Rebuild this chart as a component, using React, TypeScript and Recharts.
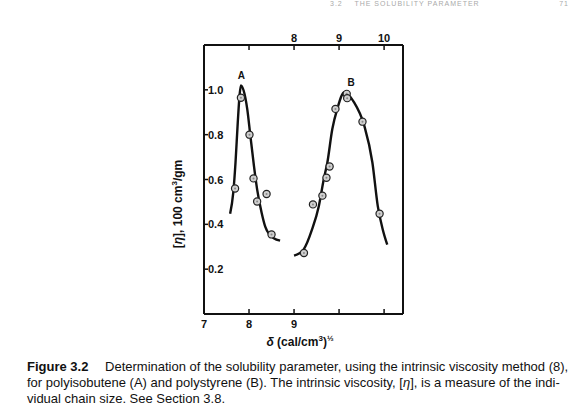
import React from 'react';
import { ComposedChart, Line, Scatter, XAxis, YAxis, ReferenceDot } from 'recharts';

// Curve A (polyisobutene) – plotted against bottom δ axis
const curveA = [
  { x: 7.58, y: 0.447 }, { x: 7.65, y: 0.541 }, { x: 7.7, y: 0.676 }, { x: 7.75, y: 0.855 },
  { x: 7.79, y: 0.975 }, { x: 7.82, y: 1.02 }, { x: 7.88, y: 0.997 }, { x: 7.96, y: 0.915 },
  { x: 8.03, y: 0.795 }, { x: 8.11, y: 0.66 }, { x: 8.18, y: 0.556 }, { x: 8.28, y: 0.452 },
  { x: 8.36, y: 0.39 }, { x: 8.45, y: 0.355 }, { x: 8.55, y: 0.338 }, { x: 8.69, y: 0.327 },
];
const pointsA = [
  { x: 7.69, y: 0.56 }, { x: 7.82, y: 0.965 }, { x: 8.01, y: 0.8 }, { x: 8.1, y: 0.605 },
  { x: 8.18, y: 0.502 }, { x: 8.39, y: 0.535 }, { x: 8.5, y: 0.355 },
];
// Curve B (polystyrene) – plotted against top δ axis
const curveB = [
  { x: 8.0, y: 0.26 }, { x: 8.21, y: 0.287 }, { x: 8.4, y: 0.377 }, { x: 8.55, y: 0.481 },
  { x: 8.66, y: 0.601 }, { x: 8.74, y: 0.676 }, { x: 8.85, y: 0.825 }, { x: 8.96, y: 0.915 },
  { x: 9.12, y: 0.99 }, { x: 9.33, y: 0.945 }, { x: 9.56, y: 0.84 }, { x: 9.74, y: 0.676 },
  { x: 9.86, y: 0.481 }, { x: 9.97, y: 0.377 }, { x: 10.07, y: 0.309 },
];
const pointsB = [
  { x: 8.22, y: 0.272 }, { x: 8.42, y: 0.489 }, { x: 8.63, y: 0.528 }, { x: 8.72, y: 0.608 },
  { x: 8.79, y: 0.658 }, { x: 8.92, y: 0.915 }, { x: 9.17, y: 0.982 }, { x: 9.18, y: 0.963 },
  { x: 9.52, y: 0.858 }, { x: 9.9, y: 0.447 },
];
const labelA = { x: 7.83, y: 1.067, text: 'A' };
const labelB = { x: 9.27, y: 1.036, text: 'B' };

const bottomTicks = [7, 8, 9, 10, 11];
const bottomLabeled = [7, 8, 9];
const topTicks = [7, 8, 9, 10];
const topLabeled = [8, 9, 10];
const yTicks = [0.2, 0.4, 0.6, 0.8, 1.0];
const bottomDomain = [7, 11.42];
const topDomain = [6, 10.42];
const yDomain = [0, 1.2];

const FONT = '"Liberation Sans", Arial, sans-serif';

const BottomTick = (props: any) => {
  const { x, y, payload } = props;
  const v = payload.value;
  return (
    <g>
      <line x1={x} y1={y} x2={x} y2={y - 5} stroke="#111" strokeWidth={1.5} />
      {bottomLabeled.includes(v) && (
        <text x={x} y={y + 14} textAnchor="middle" fontSize={11} fontWeight="bold" fill="#111" fontFamily={FONT}>
          {v}
        </text>
      )}
    </g>
  );
};

const TopTick = (props: any) => {
  const { x, y, payload } = props;
  const v = payload.value;
  return (
    <g>
      <line x1={x} y1={y} x2={x} y2={y + 5} stroke="#111" strokeWidth={1.5} />
      {topLabeled.includes(v) && (
        <text x={x} y={y - 3} textAnchor="middle" fontSize={11} fontWeight="bold" fill="#111" fontFamily={FONT}>
          {v}
        </text>
      )}
    </g>
  );
};

const LeftTick = (props: any) => {
  const { y, payload } = props;
  const v = payload.value as number;
  const x = 204;
  return (
    <g>
      <line x1={x} y1={y} x2={x + 4} y2={y} stroke="#111" strokeWidth={1.5} />
      <text x={x + 4} y={y + 4} textAnchor="start" fontSize={11} fontWeight="bold" fill="#111" fontFamily={FONT}>
        {v.toFixed(1)}
      </text>
    </g>
  );
};

const Marker = (props: any) => {
  const { cx, cy } = props;
  return (
    <g>
      <circle cx={cx} cy={cy} r={3.6} fill="#cfcfcf" stroke="#222" strokeWidth={1.2} />
      <circle cx={cx} cy={cy} r={1} fill="#888" />
    </g>
  );
};

const YLabel = () => (
  <text transform="translate(182,204) rotate(-90)" textAnchor="middle" fontSize={12} fontWeight="bold" fill="#111" fontFamily={FONT}>
    [<tspan fontStyle="italic">η</tspan>], 100 cm<tspan dy={-5} fontSize={8}>3</tspan>
    <tspan dy={5}>/gm</tspan>
  </text>
);

const XLabel = () => (
  <text x={300} y={346} textAnchor="middle" fontSize={12} fontWeight="bold" fill="#111" fontFamily={FONT}>
    <tspan fontStyle="italic">δ</tspan> (cal/cm<tspan dy={-5} fontSize={8}>3</tspan>
    <tspan dy={5}>)</tspan>
    <tspan dy={-5} fontSize={8}>½</tspan>
  </text>
);

const PeakLabel = (props: any) => {
  const { viewBox, value } = props;
  return (
    <text x={viewBox.x} y={viewBox.y + 4} textAnchor="middle" fontSize={10} fontWeight="bold" fill="#111" fontFamily={FONT}>
      {value}
    </text>
  );
};

export default function App() {
  return (
    <div style={{ position: 'absolute', left: 0, top: 0, width: 581, height: 412, background: '#fff', overflow: 'hidden' }}>
      <div
        style={{
          position: 'absolute', left: 330, top: 0, fontFamily: FONT, fontSize: 7, lineHeight: '8px', color: '#aaa',
          letterSpacing: 1, whiteSpace: 'pre',
        }}
      >
        {'3.2    THE SOLUBILITY PARAMETER                           71'}
      </div>
      <ComposedChart
        width={581}
        height={350}
        margin={{ top: 25, right: 177, bottom: 6, left: 203 }}
        style={{ position: 'absolute', left: 0, top: 0 }}
      >
        <XAxis
          xAxisId="b" orientation="bottom" type="number" dataKey="x" domain={bottomDomain} ticks={bottomTicks}
          allowDataOverflow height={30} tickSize={0} tickMargin={0} tick={<BottomTick />}
          axisLine={{ stroke: '#111', strokeWidth: 2 }} tickLine={false}
          label={{ content: () => <XLabel /> }}
        />
        <XAxis
          xAxisId="t" orientation="top" type="number" dataKey="x" domain={topDomain} ticks={topTicks}
          allowDataOverflow height={20} tickSize={0} tickMargin={0} tick={<TopTick />}
          axisLine={{ stroke: '#111', strokeWidth: 2 }} tickLine={false}
        />
        <YAxis
          yAxisId="l" orientation="left" type="number" dataKey="y" domain={yDomain} ticks={yTicks}
          allowDataOverflow width={1} tickSize={0} tickMargin={0} tick={<LeftTick />}
          axisLine={{ stroke: '#111', strokeWidth: 2 }} tickLine={false}
          label={{ content: () => <YLabel /> }}
        />
        <YAxis
          yAxisId="r" orientation="right" type="number" domain={yDomain} ticks={yTicks} width={1}
          tick={false} tickLine={false} axisLine={{ stroke: '#111', strokeWidth: 2 }}
        />
        <Line data={curveA} xAxisId="b" yAxisId="l" dataKey="y" type="monotone" stroke="#111" strokeWidth={2.4} dot={false} isAnimationActive={false} />
        <Line data={curveB} xAxisId="t" yAxisId="l" dataKey="y" type="monotone" stroke="#111" strokeWidth={2.4} dot={false} isAnimationActive={false} />
        <Line data={curveB} xAxisId="t" yAxisId="r" dataKey="y" stroke="none" dot={false} activeDot={false} isAnimationActive={false} />
        <Scatter data={pointsA} xAxisId="b" yAxisId="l" dataKey="y" shape={<Marker />} isAnimationActive={false} />
        <Scatter data={pointsB} xAxisId="t" yAxisId="l" dataKey="y" shape={<Marker />} isAnimationActive={false} />
        <ReferenceDot xAxisId="b" yAxisId="l" x={labelA.x} y={labelA.y} r={0} stroke="none" label={<PeakLabel value={labelA.text} />} />
        <ReferenceDot xAxisId="t" yAxisId="l" x={labelB.x} y={labelB.y} r={0} stroke="none" label={<PeakLabel value={labelB.text} />} />
      </ComposedChart>
      <div
        style={{
          position: 'absolute', left: 27, top: 359, width: 545, fontFamily: FONT, fontSize: 13,
          lineHeight: '16px', color: '#111',
        }}
      >
        <div><b>Figure 3.2</b>{'\u2003 Determination of the solubility parameter, using the intrinsic viscosity method (8),'}</div>
        <div>for polyisobutene (A) and polystyrene (B). The intrinsic viscosity, [<i>η</i>], is a measure of the indi-</div>
        <div>vidual chain size. See Section 3.8.</div>
      </div>
    </div>
  );
}
